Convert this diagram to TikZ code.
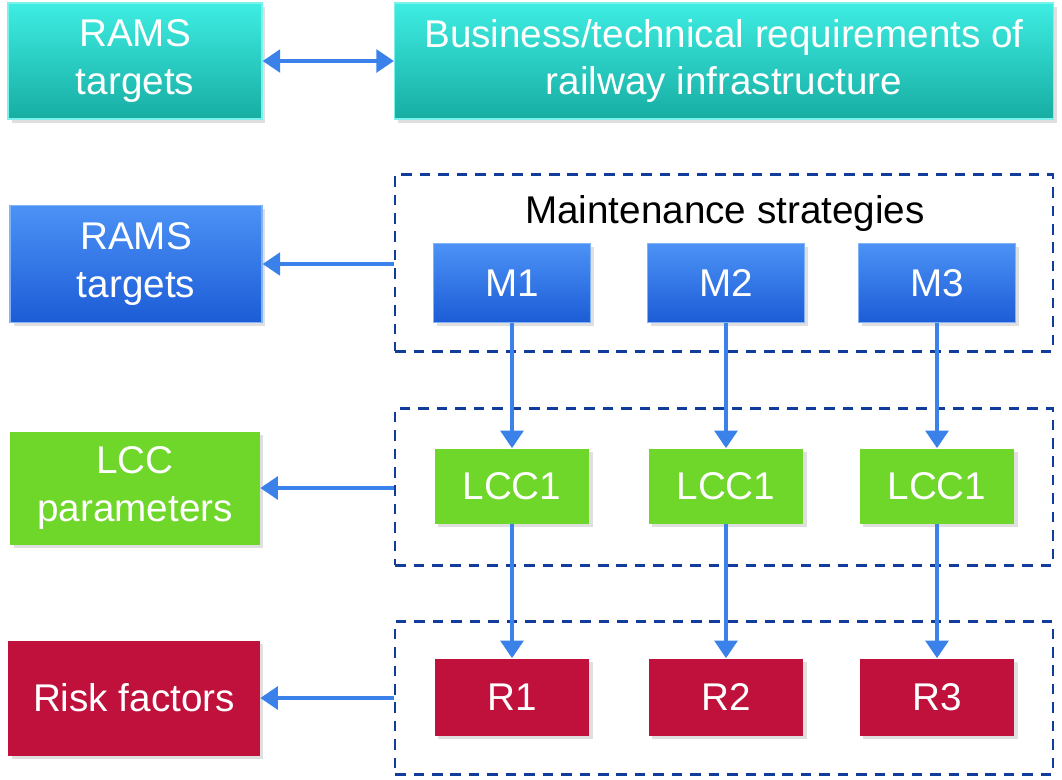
\documentclass[tikz,border=0pt]{standalone}
\usepackage{fontspec}
\setmainfont{Liberation Sans}
\usetikzlibrary{arrows.meta}
\usetikzlibrary{shadows}

\definecolor{tealtop}{HTML}{3EEDE2}
\definecolor{tealbot}{HTML}{17ADA3}
\definecolor{bluetop}{HTML}{4C92F6}
\definecolor{bluebot}{HTML}{1C5CD6}
\definecolor{lccgreen}{HTML}{6FD62A}
\definecolor{riskred}{HTML}{BF113B}
\definecolor{arrblue}{HTML}{3A82EA}
\definecolor{dashblue}{HTML}{123C9C}

\begin{document}
\begin{tikzpicture}[x=0.02cm, y=-0.02cm,
        every node/.style={font=\fontsize{22}{27}\selectfont, align=center, inner sep=0pt},
        box/.style={rectangle, text=white, drop shadow={opacity=0.25, shadow xshift=2pt, shadow yshift=-2pt}},
        tealbox/.style={box, draw=tealtop!70!white, line width=0.8pt, top color=tealtop, bottom color=tealbot},
        bluebox/.style={box, draw=bluetop!70!white, line width=0.8pt, top color=bluetop, bottom color=bluebot, minimum width=3.14cm, minimum height=1.58cm},
        greenbox/.style={box, fill=lccgreen, minimum width=3.1cm, minimum height=1.5cm},
        redbox/.style={box, fill=riskred, minimum width=3.1cm, minimum height=1.54cm},
        group/.style={draw=dashblue, line width=1.6pt, dash pattern=on 6pt off 4.5pt, minimum width=13.16cm},
        arr/.style={draw=arrblue, line width=2pt, -{Triangle[width=13pt,length=10pt]}}
    ]
        \useasboundingbox (0,0) rectangle (1062,779);

        % dashed groups
        \node[group, minimum height=3.54cm] (grpM) at (724,263) {};
        \node[group, minimum height=3.14cm] (grpL) at (724,487) {};
        \node[group, minimum height=3.06cm] (grpR) at (724,698) {};

        % top row
        \node[tealbox, minimum width=5.08cm, minimum height=2.32cm] (ramsTop) at (135,61) {RAMS\\targets};
        \node[tealbox, minimum width=13.18cm, minimum height=2.32cm] (reqs) at (724,61) {Business/technical requirements of\\railway infrastructure};

        % left column
        \node[bluebox, minimum width=5.04cm, minimum height=2.34cm] (ramsB) at (136,264) {RAMS\\targets};
        \node[greenbox, minimum width=5.0cm, minimum height=2.26cm] (lccP) at (135,488) {LCC\\parameters};
        \node[redbox, minimum width=5.04cm, minimum height=2.3cm] (risk) at (134,698) {Risk factors};

        \node (title) at (725,213) {Maintenance strategies};

        % strategies, costs and risks
        \node[bluebox] (M1) at (512,283) {M1};
        \node[bluebox] (M2) at (726,283) {M2};
        \node[bluebox] (M3) at (937,283) {M3};
        \node[greenbox] (L1) at (512,486) {LCC1};
        \node[greenbox] (L2) at (726,486) {LCC1};
        \node[greenbox] (L3) at (937,486) {LCC1};
        \node[redbox] (R1) at (512,697) {R1};
        \node[redbox] (R2) at (726,697) {R2};
        \node[redbox] (R3) at (937,697) {R3};

        % connectors
        \draw[arr, {Triangle[width=13pt,length=10pt]}-{Triangle[width=13pt,length=10pt]}] (ramsTop.east) -- (reqs.west);
        \draw[arr] (grpM.west |- ramsB.east) -- (ramsB.east);
        \draw[arr] (grpL.west |- lccP.east) -- (lccP.east);
        \draw[arr] (grpR.west |- risk.east) -- (risk.east);

        \draw[arr] (M1.south) -- (L1.north);
        \draw[arr] (M2.south) -- (L2.north);
        \draw[arr] (M3.south) -- (L3.north);
        \draw[arr] (L1.south) -- (R1.north);
        \draw[arr] (L2.south) -- (R2.north);
        \draw[arr] (L3.south) -- (R3.north);
    \end{tikzpicture}
\end{document}
